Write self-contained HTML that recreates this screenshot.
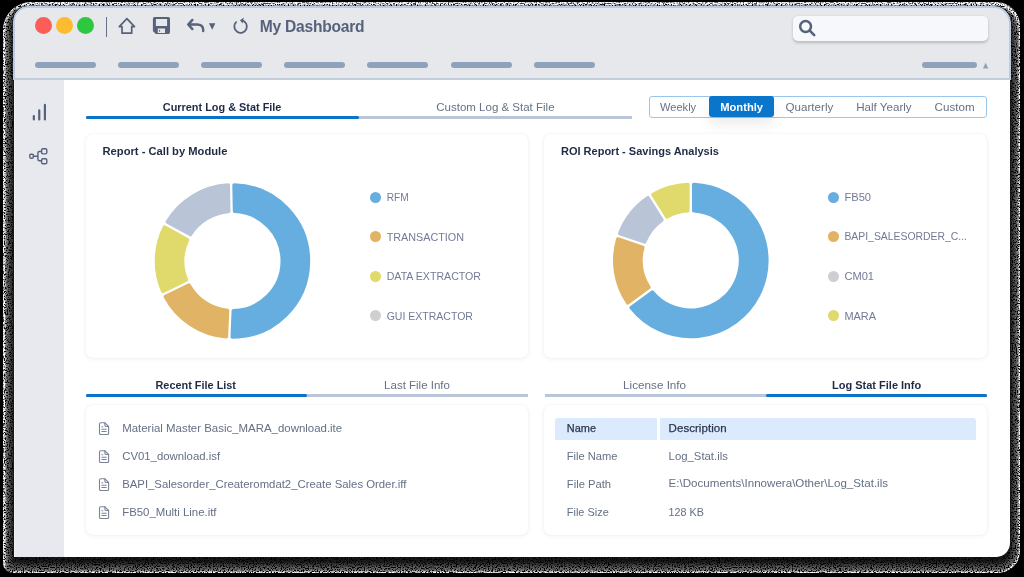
<!DOCTYPE html>
<html><head><meta charset="utf-8">
<style>
*{box-sizing:border-box;margin:0;padding:0}
html,body{width:1024px;height:577px;overflow:hidden;background:#000}
body{position:relative;font-family:"Liberation Sans",sans-serif;color:#5b667a}
.abs{position:absolute}
.halo{position:absolute;left:3px;top:2px;width:1017px;height:571px;border-radius:28px 24px 22px 10px;background:#b0b0b0;overflow:hidden}
.win{position:absolute;left:13px;top:6px;width:997.5px;height:551px;border-radius:15px 17px 14px 0;background:#181818;overflow:hidden}
.tb{position:absolute;left:0;top:0;width:997.5px;height:74px;background:#e7e8ec;border:2px solid #bccbdf;border-bottom-color:#c2cddc;border-radius:15px 17px 0 0}
.side{position:absolute;left:1px;top:74px;width:50.4px;height:477px;background:#e8e9ee;border-left:1px solid #eff0f4}
.dot{position:absolute;width:17px;height:17px;border-radius:50%}
.bar{position:absolute;top:62.4px;height:5.8px;width:61px;border-radius:3px;background:#8fa2bb}
.t{position:absolute;white-space:nowrap;line-height:1}
.card{position:absolute;background:#fff;border-radius:7px;box-shadow:0 1px 5px rgba(40,50,80,.065),0 0 1.5px rgba(40,50,80,.07)}
.ld{position:absolute;width:11px;height:11px;border-radius:50%}
</style></head><body>
<div class="halo"><div class="abs" style="left:10px;top:4px;width:997.5px;height:551px;border-radius:15px 17px 14px 0;background:#181818;box-shadow:0 6px 5px 2px #0e0e0e,0 7px 3px 8px #383838"></div>
<svg class="abs" style="left:0;top:0;mix-blend-mode:overlay" width="1018" height="572"><defs><filter id="nz" x="0" y="0" width="1018" height="572" filterUnits="userSpaceOnUse"><feTurbulence type="fractalNoise" baseFrequency="0.75" numOctaves="2" seed="11"/><feColorMatrix type="matrix" values="1 0 0 0 0 1 0 0 0 0 1 0 0 0 0 0 0 0 0 1"/><feComponentTransfer><feFuncR type="linear" slope="4" intercept="-1.5"/><feFuncG type="linear" slope="4" intercept="-1.5"/><feFuncB type="linear" slope="4" intercept="-1.5"/></feComponentTransfer></filter></defs><rect width="1018" height="572" filter="url(#nz)"/></svg></div>
<div class="win">
  <div class="abs" style="left:1px;top:74px;width:996px;height:477px;background:#fff;border-radius:0 0 14px 0"></div>
  <div class="tb"></div>
  <div class="side"></div>
</div>
<div class="dot" style="left:35.1px;top:17.1px;background:#fd5d57"></div>
<div class="dot" style="left:56.2px;top:17.1px;background:#fdbc2f"></div>
<div class="dot" style="left:77.2px;top:17.1px;background:#2bc840"></div>
<div class="abs" style="left:105.5px;top:17.1px;width:1.4px;height:19.8px;background:#66728b"></div>
<div class="abs" style="left:793px;top:16px;width:195px;height:24.5px;border-radius:5px;background:#f6f8fc;box-shadow:0 1.5px 3px rgba(0,0,0,.2)"></div>
<div class="bar" style="left:35px"></div>
<div class="bar" style="left:118px"></div>
<div class="bar" style="left:201px"></div>
<div class="bar" style="left:284px"></div>
<div class="bar" style="left:367px"></div>
<div class="bar" style="left:450.5px"></div>
<div class="bar" style="left:533.5px"></div>
<div class="bar" style="left:922.2px;width:55.2px"></div>
<svg class="abs" style="left:980px;top:60px" width="12" height="12" viewBox="980 60 12 12"><path d="M982.9 68.4 H988.4 L985.65 62.8 Z" fill="#8fa2bb"/></svg>

<!-- tabs top -->
<div class="abs" style="left:86px;top:116.2px;width:546px;height:2.8px;background:#bac6d7"></div>
<div class="abs" style="left:86px;top:116px;width:273px;height:3px;background:#0a74c8;border-radius:1.5px"></div>
<!-- segmented -->
<div class="abs" style="left:648.5px;top:95.5px;width:338px;height:22px;border:1px solid #98c6ec;border-radius:3px;background:#fff"></div>
<div class="abs" style="left:708.7px;top:95.7px;width:65.5px;height:21.7px;border-radius:3px;background:#0a76cb;box-shadow:0 8px 12px rgba(0,0,0,.07)"></div>

<!-- cards -->
<div class="card" style="left:85.5px;top:133.5px;width:442.7px;height:224.3px"></div>
<div class="card" style="left:544px;top:133.5px;width:443px;height:224.3px"></div>

<!-- bottom tabs -->
<div class="abs" style="left:86px;top:394.2px;width:441.5px;height:2.7px;background:#bac6d7"></div>
<div class="abs" style="left:86px;top:394px;width:221px;height:3px;background:#0a74c8;border-radius:1.5px"></div>
<div class="abs" style="left:544.5px;top:394.2px;width:442.5px;height:2.7px;background:#bac6d7"></div>
<div class="abs" style="left:765.5px;top:394px;width:221.5px;height:3px;background:#0a74c8;border-radius:1.5px"></div>

<div class="card" style="left:85.5px;top:405px;width:442.7px;height:130px"></div>
<div class="card" style="left:544px;top:405px;width:443px;height:130px"></div>
<!-- table header -->
<div class="abs" style="left:555px;top:417.5px;width:101.5px;height:22px;background:#dbeafc;border-radius:3px 0 0 0"></div>
<div class="abs" style="left:659.5px;top:417.5px;width:316.5px;height:22px;background:#dbeafc;border-radius:0 3px 0 0"></div>

<svg class="abs" style="left:0;top:0" width="1024" height="577" viewBox="0 0 1024 577">
<g fill="none" stroke="#56627a" stroke-linecap="round" stroke-linejoin="round">
 <path d="M122 33.2 V26.6 H119.3 L126.9 18.6 L134.5 26.6 H131.7 V33.2 Z" stroke-width="1.7"/>
 <path d="M192.4 19.9 L188.2 24.5 L192.4 29.1 M188.5 24.5 H197 C201 24.5 203.2 26.8 203.2 30 V31" stroke-width="2.4"/>
 <path d="M236.07 22.12 A6.3 6.3 0 1 0 241.9 20.34" stroke-width="1.8"/>
 <circle cx="805.6" cy="26.5" r="5.4" stroke-width="2.5"/>
 <path d="M809.8 30.7 L814.2 35.1" stroke-width="2.6"/>
 <path d="M33.85 116 V119.4 M39.25 110.4 V119.4 M44.9 104.9 V119.4" stroke-width="2.2"/>
 <g stroke-width="1.4">
  <rect x="29.8" y="154.2" width="3.6" height="4" rx="1.1"/>
  <rect x="41.6" y="148.8" width="5.2" height="5.1" rx="1.3"/>
  <rect x="41.6" y="158.7" width="5.2" height="5.1" rx="1.3"/>
  <path d="M33.4 156.2 H37.9 M40.9 151.5 H39.4 Q37.9 151.5 37.9 153 V159.2 Q37.9 160.7 39.4 160.7 H40.9"/>
 </g>
</g>
<g fill="#56627a">
 <path fill-rule="evenodd" d="M154.5 17.1 H168.4 Q170 17.1 170 18.7 V32.3 Q170 33.9 168.4 33.9 H155.8 L152.9 31 V18.7 Q152.9 17.1 154.5 17.1 Z M155.9 19 H167.1 V25.9 H155.9 Z M157.8 28.4 H165 V32.9 H157.8 Z"/>
 <rect x="159.1" y="29.9" width="1" height="1.8"/>
 <path d="M208.9 23.2 H215.4 L212.2 29.8 Z"/>
 <path d="M243.8 17.6 L240.0 20.3 L242.6 23.6 Z"/>
</g>
<path d="M234.12 185.02A76.0 76.0 0 0 1 232.27 337.00L233.36 310.79A49.8 49.8 0 0 0 234.58 211.24Z" fill="#66aee0" stroke="#66aee0" stroke-width="3.6" stroke-linejoin="round"/>
<path d="M226.37 336.75A76.0 76.0 0 0 1 165.35 296.59L188.98 285.21A49.8 49.8 0 0 0 227.47 310.55Z" fill="#e0b365" stroke="#e0b365" stroke-width="3.6" stroke-linejoin="round"/>
<path d="M162.79 291.28A76.0 76.0 0 0 1 164.47 227.12L187.48 239.71A49.8 49.8 0 0 0 186.43 279.90Z" fill="#e0d96b" stroke="#e0d96b" stroke-width="3.6" stroke-linejoin="round"/>
<path d="M167.30 221.94A76.0 76.0 0 0 1 228.23 185.12L228.68 211.35A49.8 49.8 0 0 0 190.31 234.54Z" fill="#b9c5d7" stroke="#b9c5d7" stroke-width="3.6" stroke-linejoin="round"/>
<path d="M693.75 184.56A76.0 76.0 0 1 1 631.18 307.63L652.37 292.17A49.8 49.8 0 1 0 693.75 210.79Z" fill="#66aee0" stroke="#66aee0" stroke-width="3.6" stroke-linejoin="round"/>
<path d="M627.70 302.86A76.0 76.0 0 0 1 617.88 239.07L642.74 247.44A49.8 49.8 0 0 0 648.90 287.41Z" fill="#e0b365" stroke="#e0b365" stroke-width="3.6" stroke-linejoin="round"/>
<path d="M619.76 233.48A76.0 76.0 0 0 1 647.95 197.73L661.89 219.95A49.8 49.8 0 0 0 644.62 241.85Z" fill="#b9c5d7" stroke="#b9c5d7" stroke-width="3.6" stroke-linejoin="round"/>
<path d="M652.94 194.60A76.0 76.0 0 0 1 687.85 184.56L687.85 210.79A49.8 49.8 0 0 0 666.88 216.82Z" fill="#e0d96b" stroke="#e0d96b" stroke-width="3.6" stroke-linejoin="round"/>
</svg>
<div class="t" style="left:259.8px;top:18.99px;font-size:15.6px;color:#56627c;font-weight:bold;letter-spacing:-0.25px;">My Dashboard</div>
<div class="t" style="left:162.8px;top:102.02px;font-size:10.9px;color:#1f2b45;font-weight:bold;">Current Log &amp; Stat File</div>
<div class="t" style="left:436.3px;top:101.52px;font-size:11.5px;color:#677185;">Custom Log &amp; Stat File</div>
<div class="t" style="left:660px;top:101.60px;font-size:11.1px;color:#677185;">Weekly</div>
<div class="t" style="left:720.2px;top:101.52px;font-size:11.2px;color:#ffffff;font-weight:bold;">Monthly</div>
<div class="t" style="left:785.6px;top:101.18px;font-size:11.6px;color:#677185;">Quarterly</div>
<div class="t" style="left:856.2px;top:101.18px;font-size:11.6px;color:#677185;">Half Yearly</div>
<div class="t" style="left:934.6px;top:101.18px;font-size:11.6px;color:#677185;">Custom</div>
<div class="t" style="left:102.5px;top:146.02px;font-size:11.2px;color:#1f2b45;font-weight:bold;">Report - Call by Module</div>
<div class="t" style="left:561px;top:146.19px;font-size:11.0px;color:#1f2b45;font-weight:bold;">ROI Report - Savings Analysis</div>
<div class="ld" style="left:369.6px;top:191.7px;background:#66aee0"></div>
<div class="t" style="left:386.7px;top:192.80px;font-size:10.16px;color:#727b96;">RFM</div>
<div class="ld" style="left:369.6px;top:231.1px;background:#e0b365"></div>
<div class="t" style="left:386.7px;top:231.86px;font-size:10.8px;color:#727b96;">TRANSACTION</div>
<div class="ld" style="left:369.6px;top:270.8px;background:#e0d96b"></div>
<div class="t" style="left:386.7px;top:271.42px;font-size:10.61px;color:#727b96;">DATA EXTRACTOR</div>
<div class="ld" style="left:369.6px;top:310.1px;background:#cfcfd1"></div>
<div class="t" style="left:386.7px;top:310.99px;font-size:10.52px;color:#727b96;">GUI EXTRACTOR</div>
<div class="ld" style="left:827.9px;top:191.7px;background:#66aee0"></div>
<div class="t" style="left:844.4px;top:191.94px;font-size:11.17px;color:#727b96;">FB50</div>
<div class="ld" style="left:827.9px;top:231.1px;background:#e0b365"></div>
<div class="t" style="left:844.4px;top:232.19px;font-size:10.41px;color:#727b96;">BAPI_SALESORDER_C...</div>
<div class="ld" style="left:827.9px;top:270.8px;background:#cfcfd1"></div>
<div class="t" style="left:844.4px;top:271.00px;font-size:11.1px;color:#727b96;">CM01</div>
<div class="ld" style="left:827.9px;top:310.1px;background:#e0d96b"></div>
<div class="t" style="left:844.4px;top:310.64px;font-size:10.94px;color:#727b96;">MARA</div>
<div class="t" style="left:155.5px;top:380.07px;font-size:10.9px;color:#1f2b45;font-weight:bold;">Recent File List</div>
<div class="t" style="left:384.1px;top:379.57px;font-size:11.5px;color:#677185;">Last File Info</div>
<div class="t" style="left:623.1px;top:379.40px;font-size:11.7px;color:#677185;">License Info</div>
<div class="t" style="left:832px;top:379.99px;font-size:11.0px;color:#1f2b45;font-weight:bold;">Log Stat File Info</div>
<div class="t" style="left:122.2px;top:422.62px;font-size:11.44px;color:#657084;">Material Master Basic_MARA_download.ite</div>
<svg class="abs" style="left:0;top:0px" width="120" height="440" viewBox="0 0 120 440"><g fill="none" stroke="#7a8396" stroke-width="1.1" stroke-linecap="round" stroke-linejoin="round"><path d="M100.8 422.8 H104.9 L108.6 426.5 V433.2 Q108.6 434.5 107.3 434.5 H100.8 Q99.5 434.5 99.5 433.2 V424.1 Q99.5 422.8 100.8 422.8 Z"/><path d="M104.9 422.8 V425.6 Q104.9 426.5 105.8 426.5 H108.6"/><path d="M101.9 426.8 H102.8 M101.9 429.3 H106.2 M101.9 431.5 H106.2"/></g></svg>
<div class="t" style="left:122.2px;top:450.68px;font-size:11.37px;color:#657084;">CV01_download.isf</div>
<svg class="abs" style="left:0;top:28px" width="120" height="440" viewBox="0 0 120 440"><g fill="none" stroke="#7a8396" stroke-width="1.1" stroke-linecap="round" stroke-linejoin="round"><path d="M100.8 422.8 H104.9 L108.6 426.5 V433.2 Q108.6 434.5 107.3 434.5 H100.8 Q99.5 434.5 99.5 433.2 V424.1 Q99.5 422.8 100.8 422.8 Z"/><path d="M104.9 422.8 V425.6 Q104.9 426.5 105.8 426.5 H108.6"/><path d="M101.9 426.8 H102.8 M101.9 429.3 H106.2 M101.9 431.5 H106.2"/></g></svg>
<div class="t" style="left:122.2px;top:478.69px;font-size:11.35px;color:#657084;">BAPI_Salesorder_Createromdat2_Create Sales Order.iff</div>
<svg class="abs" style="left:0;top:56px" width="120" height="440" viewBox="0 0 120 440"><g fill="none" stroke="#7a8396" stroke-width="1.1" stroke-linecap="round" stroke-linejoin="round"><path d="M100.8 422.8 H104.9 L108.6 426.5 V433.2 Q108.6 434.5 107.3 434.5 H100.8 Q99.5 434.5 99.5 433.2 V424.1 Q99.5 422.8 100.8 422.8 Z"/><path d="M104.9 422.8 V425.6 Q104.9 426.5 105.8 426.5 H108.6"/><path d="M101.9 426.8 H102.8 M101.9 429.3 H106.2 M101.9 431.5 H106.2"/></g></svg>
<div class="t" style="left:122.2px;top:506.65px;font-size:11.4px;color:#657084;">FB50_Multi Line.itf</div>
<svg class="abs" style="left:0;top:84px" width="120" height="440" viewBox="0 0 120 440"><g fill="none" stroke="#7a8396" stroke-width="1.1" stroke-linecap="round" stroke-linejoin="round"><path d="M100.8 422.8 H104.9 L108.6 426.5 V433.2 Q108.6 434.5 107.3 434.5 H100.8 Q99.5 434.5 99.5 433.2 V424.1 Q99.5 422.8 100.8 422.8 Z"/><path d="M104.9 422.8 V425.6 Q104.9 426.5 105.8 426.5 H108.6"/><path d="M101.9 426.8 H102.8 M101.9 429.3 H106.2 M101.9 431.5 H106.2"/></g></svg>
<div class="t" style="left:566.8px;top:423.23px;font-size:10.95px;color:#2b3650;-webkit-text-stroke:0.25px #2b3650;">Name</div>
<div class="t" style="left:668.6px;top:422.57px;font-size:11.5px;color:#2b3650;-webkit-text-stroke:0.25px #2b3650;letter-spacing:0.05px;">Description</div>
<div class="t" style="left:566.8px;top:451.10px;font-size:11.11px;color:#657084;">File Name</div>
<div class="t" style="left:668.6px;top:450.89px;font-size:11.35px;color:#657084;">Log_Stat.ils</div>
<div class="t" style="left:566.8px;top:478.79px;font-size:11.23px;color:#657084;">File Path</div>
<div class="t" style="left:668.6px;top:478.49px;font-size:11.59px;color:#657084;">E:\Documents\Innowera\Other\Log_Stat.ils</div>
<div class="t" style="left:566.8px;top:506.83px;font-size:10.95px;color:#657084;">File Size</div>
<div class="t" style="left:668.6px;top:506.99px;font-size:10.76px;color:#657084;">128 KB</div>
</body></html>
